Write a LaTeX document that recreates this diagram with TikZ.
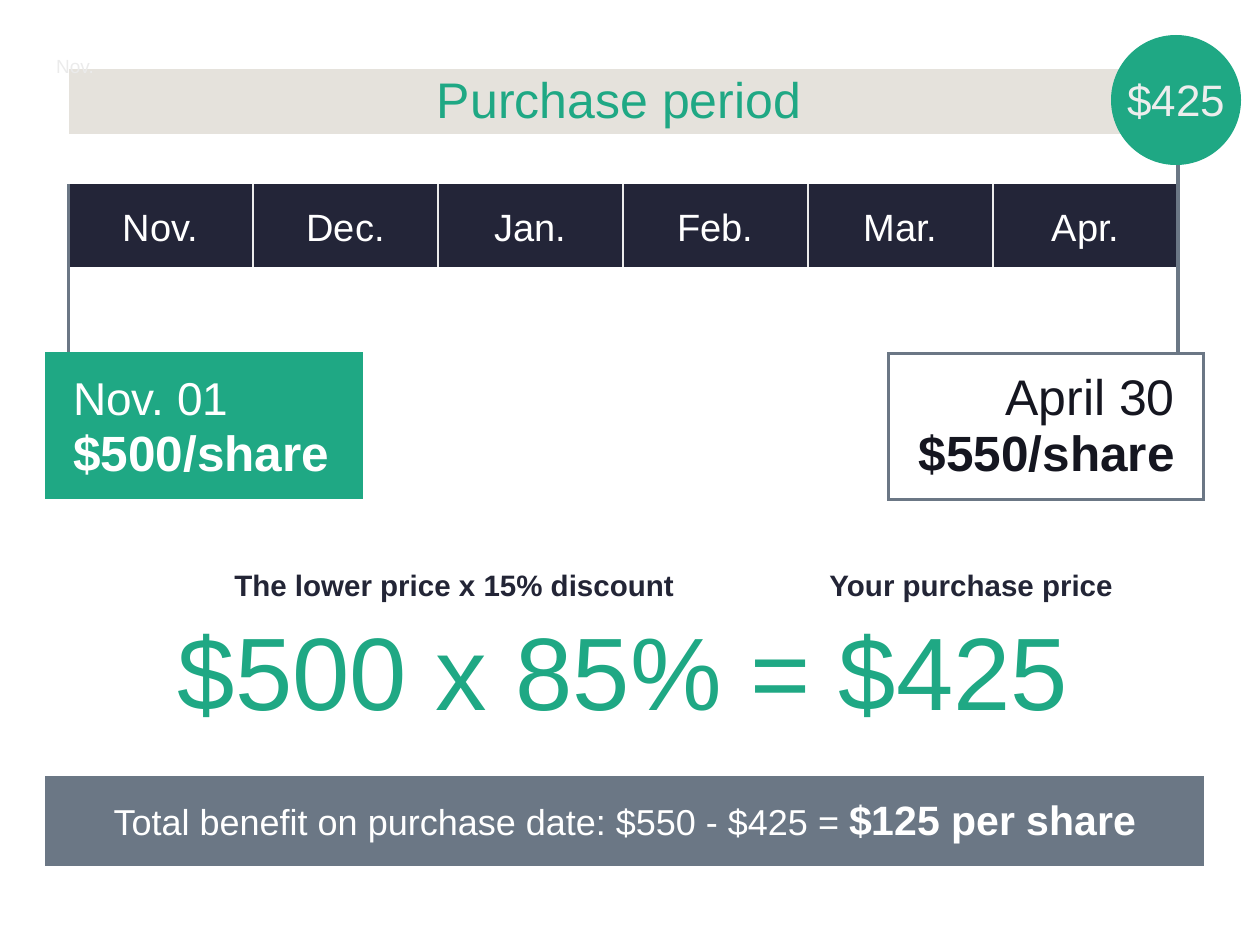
\documentclass[tikz,border=0pt]{standalone}
\usepackage{fontspec}
\setmainfont{Liberation Sans}
\definecolor{espgreen}{HTML}{1FA884}
\definecolor{espnavy}{HTML}{232538}
\definecolor{espgray}{HTML}{6B7785}
\definecolor{espbeige}{HTML}{E5E2DC}
\definecolor{espdark}{HTML}{232536}
\definecolor{espfaint}{HTML}{EBEBEB}
\newcommand{\fs}[1]{\fontsize{#1}{#1}\selectfont}
\frenchspacing
\begin{document}
\begin{tikzpicture}[x=1pt,y=-1pt,
  cell/.style={fill=espnavy,draw=none,minimum width=184pt,minimum height=83pt,anchor=north west,inner sep=0pt,outer sep=0pt},
  monthlbl/.style={text=white,font=\fs{38},anchor=base},
  sep/.style={draw=white!92!black,line width=2.5pt},
  leader/.style={draw=espgray,line width=3.5pt},
  lbl/.style={font=\bfseries\fs{29.5},text=espdark,anchor=base}]
\useasboundingbox (0,0) rectangle (1250,934);
% purchase period band
\node[fill=espbeige,anchor=north west,minimum width=1100pt,minimum height=65pt,inner sep=0pt,outer sep=0pt] (band) at (69,69) {};
% faint label
\node[text=espfaint,font=\fs{19},anchor=base west,inner sep=0pt] (faint) at (56,74) {Nov.};
\node[text=espgreen,font=\fs{50},anchor=base,inner sep=0pt] (pp) at (619,118) {Purchase period};
% month bar
\foreach \i/\m in {0/Nov.,1/Dec.,2/Jan.,3/Feb.,4/Mar.,5/Apr.}{
  \node[cell] (c\i) at ({68+\i*185},184) {};
  \node[monthlbl] (m\i) at ({68+\i*185+92.5},241) {\m};
}
\foreach \i in {1,...,5}{
  \draw[sep] (c\i.north west) -- (c\i.south west);
}
% circle
\node[circle,fill=espgreen,minimum size=130pt,inner sep=0pt,outer sep=0pt] (circ) at (1176,100) {};
\node[text=white!93!black,font=\fs{44},anchor=base,inner sep=0pt] (circtxt) at (1176,116) {\$425};
% boxes
\node[fill=espgreen,anchor=north west,minimum width=318pt,minimum height=147pt,inner sep=0pt,outer sep=0pt] (gbox) at (45,352) {};
\node[text=white,font=\fs{46},anchor=base west,inner sep=0pt] (g1) at (73,415) {Nov. 01};
\node[text=white,font=\bfseries\fs{49.5},anchor=base west,inner sep=0pt] (g2) at (73,471) {\$500/share};
\node[draw=espgray,line width=3.5pt,fill=white,anchor=north west,minimum width=315pt,minimum height=146pt,inner sep=0pt,outer sep=0pt] (wbox) at (888.5,353.5) {};
\node[text=espdark!60!black,font=\fs{50},anchor=base east,inner sep=0pt] (w1) at (1175,415) {April 30};
\node[text=espdark!60!black,font=\bfseries\fs{49.5},anchor=base east,inner sep=0pt] (w2) at (1175,471) {\$550/share};
% leaders
\coordinate (ltop) at (68.5,184);
\coordinate (lbot) at (68.5,352);
\draw[leader,line width=3pt] (ltop) -- (lbot);
\coordinate (rtop) at (1178,164);
\coordinate (rbot) at (1178,352);
\draw[leader] (circ.south -| rtop) -- (rbot);
% formula
\node[lbl] (lab1) at (454,596) {The lower price x 15\% discount};
\node[lbl] (lab2) at (971,596) {Your purchase price};
\node[text=espgreen,font=\fs{103},anchor=base,inner sep=0pt] (eq) at (623,710) {\$500 x 85\% = \$425};
% bottom bar
\node[fill=espgray,anchor=north west,minimum width=1159pt,minimum height=90pt,inner sep=0pt,outer sep=0pt] (bar) at (45,776) {};
\node[text=white,anchor=base,inner sep=0pt] (bartxt) at (625,835) {{\fs{36}Total benefit on purchase date: \$550 - \$425 = }{\bfseries\fs{41}\$125 per share}};
\end{tikzpicture}
\end{document}
